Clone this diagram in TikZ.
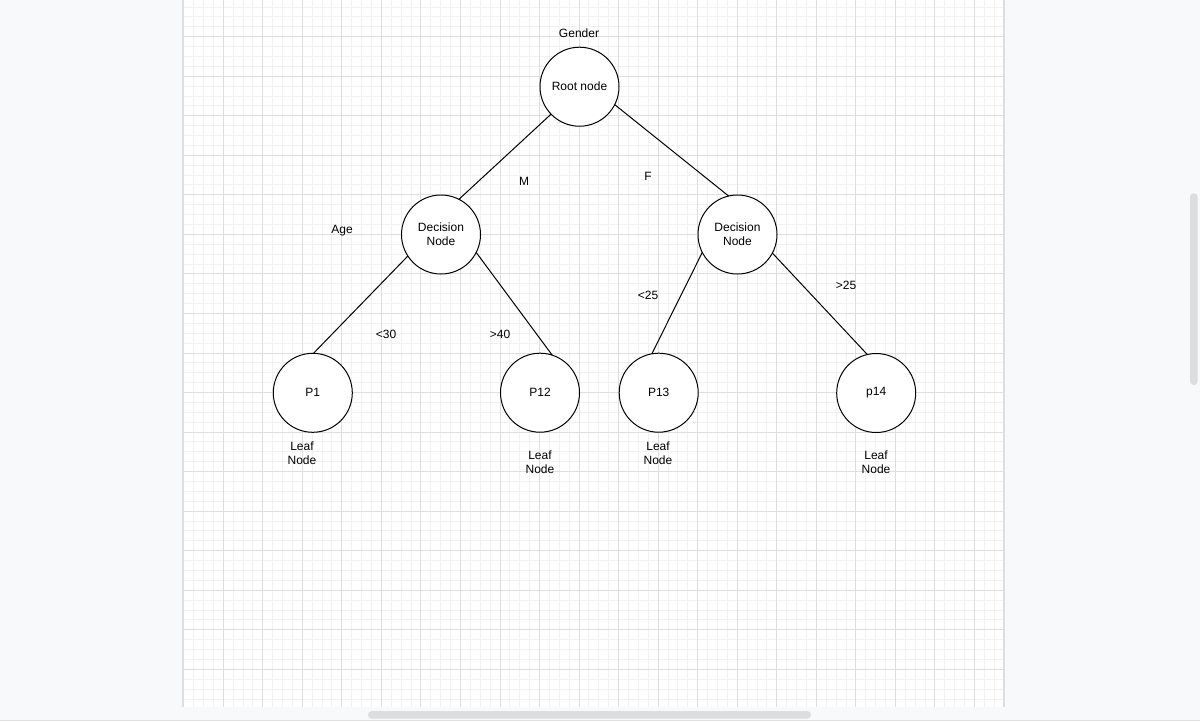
\documentclass[tikz,border=0pt]{standalone}
\usepackage{fontspec}
\setmainfont{Liberation Sans}
\definecolor{pagebg}{HTML}{F8F9FA}
\definecolor{gridminor}{HTML}{F1F1F1}
\definecolor{gridmajor}{HTML}{DEDEDE}
\definecolor{scrollbar}{HTML}{DCDDDF}
\begin{document}
\begin{tikzpicture}[x=0.75pt,y=-0.75pt,
  every node/.style={font=\fontsize{9}{10.5}\selectfont},
  treenode/.style={draw,circle,fill=white,line width=0.75pt,minimum size=59.25pt,inner sep=0pt,outer sep=0pt,align=center},
  lbl/.style={align=center,inner sep=0pt},
  edge/.style={line width=0.75pt}]
 \useasboundingbox (0,0) rectangle (1200,722);
 \fill[pagebg] (0,0) rectangle (1200,722);
 \fill[white] (183.7,0) rectangle (1003,707.3);
 \foreach \i in {0,...,82}
   \draw[gridminor,line width=0.75pt] ({183.7+9.885*\i},0) -- ({183.7+9.885*\i},707.3);
 \foreach \j in {0,...,70}
   \draw[gridminor,line width=0.75pt] (183.7,{7.05+9.885*\j}) -- (1003,{7.05+9.885*\j});
 \foreach \i in {0,...,20}
   \draw[gridmajor,line width=0.75pt] ({183.7+39.54*\i},0) -- ({183.7+39.54*\i},707.3);
 \foreach \j in {0,...,16}
   \draw[gridmajor,line width=0.75pt] (183.7,{36.7+39.54*\j}) -- (1003,{36.7+39.54*\j});
 \draw[gridmajor,line width=1.5pt] (182.5,0) -- (182.5,707.3);
 \draw[gridmajor,line width=1.5pt] (1003.5,0) -- (1003.5,707.3);
 \draw[gridmajor,line width=0.75pt] (0,720.7) -- (1200,720.7);
 \fill[white] (0,721.2) rectangle (1200,722);
 \fill[scrollbar,rounded corners=2.8pt] (1190,193.3) rectangle (1197.7,385);
 \fill[scrollbar,rounded corners=2.8pt] (368,711) rectangle (811,718.7);

 \node[treenode] (root) at (579.5,86.7) {Root node};
 \node[treenode] (decL) at (441,234.5) {Decision\\Node};
 \node[treenode] (decR) at (737.5,234.5) {Decision\\Node};
 \node[treenode] (p1) at (312.8,392.8) {P1};
 \node[treenode] (p12) at (540,392.7) {P12};
 \node[treenode] (p13) at (658.7,392.7) {P13};
 \node[treenode] (p14) at (876.2,393) {p14};

 \node[lbl] (gender) at (579,33) {Gender};
 \node[lbl] (lblM) at (524,181) {M};
 \node[lbl] (lblF) at (648,176) {F};
 \node[lbl] (age) at (342,231) {Age};
 \node[lbl] (lt30) at (386,334) {<30};
 \node[lbl] (gt40) at (500,334) {>40};
 \node[lbl] (lt25) at (648,295) {<25};
 \node[lbl] (gt25) at (846,285) {>25};
 \node[lbl] (leaf1) at (302,453) {Leaf\\Node};
 \node[lbl] (leaf12) at (540,462) {Leaf\\Node};
 \node[lbl] (leaf13) at (658,453) {Leaf\\Node};
 \node[lbl] (leaf14) at (876,462) {Leaf\\Node};

 \draw[edge] (root.224) -- (decL.63);
 \draw[edge] (root.-27) -- (decR.103);
 \draw[edge] (decL.213) -- (p1.89);
 \draw[edge] (decL.-27) -- (p12.72);
 \draw[edge] (decR.207) -- (p13.100);
 \draw[edge] (decR.-28) -- (p14.103);
\end{tikzpicture}
\end{document}
